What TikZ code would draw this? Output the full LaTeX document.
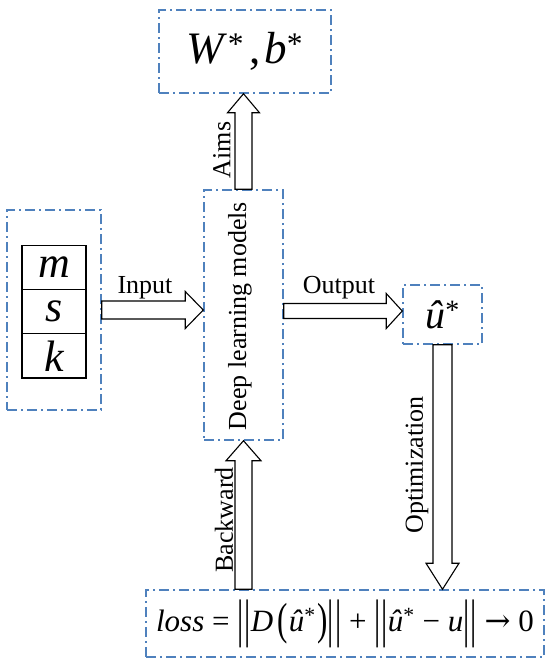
\documentclass[tikz,border=0pt]{standalone}
\usepackage{graphicx}
\usepackage{fontspec}
\setmainfont{Liberation Serif}
\newfontfamily\symf{DejaVu Serif}
\usetikzlibrary{calc}
\definecolor{boxblue}{RGB}{79,129,189}
\newcommand\dbar{\raisebox{-0.14em}{\scalebox{1}[1.7]{|\kern0.04em|}}}
\newcommand\tparen[1]{\raisebox{-0.1em}{\scalebox{1}[1.45]{#1}}}
\newcommand\st{\textsuperscript{*}}
\tikzset{
  dbox/.style={draw=boxblue, line width=1.5pt, dash pattern=on 10pt off 4pt on 2pt off 4pt, inner sep=0pt},
  barrow/.style={draw=black, fill=white, line width=1.1pt, line join=miter},
  lbl/.style={font=\fontsize{26}{30}\selectfont, inner sep=0pt},
  cell/.style={draw=black, line width=1.1pt, minimum width=64pt, minimum height=44.3pt, inner sep=0pt, font=\fontsize{44}{48}\selectfont\itshape}
}
% #1 start, #2 tip, #3 shaft half width, #4 head half width, #5 head length
\newcommand\blockarrow[5]{%
  \coordinate (ba-h) at ($(#2)!#5!(#1)$);
  \draw[barrow] ($(#1)!#3!90:(#2)$) -- ($(ba-h)!#3!-90:(#1)$) -- ($(ba-h)!#4!-90:(#1)$) -- (#2)
    -- ($(ba-h)!#4!90:(#1)$) -- ($(ba-h)!#3!90:(#1)$) -- ($(#1)!#3!-90:(#2)$) -- cycle;}
\begin{document}
\begin{tikzpicture}[x=1pt,y=-1pt]
\useasboundingbox (0,0) rectangle (550,667);
% boxes
\node[dbox, minimum width=172pt, minimum height=83pt, font=\fontsize{45}{50}\selectfont] (tb) at (245,51.5) {\textit{W}\st\kern0.12em,\kern0.08em\textit{b}\st};
\node[dbox, minimum width=94pt, minimum height=200pt] (lb) at (54,310) {};
\node[cell] (cm) at (54,267.2) {m};
\node[cell] (cs) at (54,311.5) {s};
\node[cell] (ck) at (54,355.8) {k};
\node[dbox, minimum width=79pt, minimum height=59pt, font=\fontsize{40}{44}\selectfont] (ub) at (442.5,314.5) {\textit{û}\st};
\node[dbox, minimum width=398pt, minimum height=67pt, font=\fontsize{31}{36}\selectfont] (loss) at (345,623.5)
  {\textit{loss} = \dbar\textit{D}\kern0.12em\tparen{(}\kern0.05em\textit{û}\st\kern0.05em\tparen{)}\dbar{} + \dbar\textit{û}\st{} − \textit{u}\dbar{} {\symf →} 0};
\node[dbox, minimum width=79pt, minimum height=250pt] (dl) at (243.5,315) {};
% labels
\node[lbl, rotate=90] (dlt) at (240,316) {Deep learning models};
\node[lbl] (tin) at (145,288) {Input};
\node[lbl] (tout) at (339,288) {Output};
\node[lbl, rotate=90] (taims) at (222,150) {Aims};
\node[lbl, rotate=90] (tback) at (224,520) {Backward};
\node[lbl, rotate=90] (topt) at (417,465) {Optimization};
% arrows
\coordinate (in-end) at (dl.west |- lb.east);
\blockarrow{lb.east}{in-end}{9pt}{18.5pt}{18pt}
\coordinate (out-s) at (dl.east |- 0,311);
\coordinate (out-e) at (ub.west |- 0,311);
\blockarrow{out-s}{out-e}{7.5pt}{17.5pt}{16pt}
\coordinate (aims-e) at (tb.south -| dl.north);
\blockarrow{dl.north}{aims-e}{8.5pt}{16pt}{19pt}
\coordinate (back-s) at (dl.south |- loss.north);
\blockarrow{back-s}{dl.south}{8.5pt}{17.5pt}{20pt}
\coordinate (opt-e) at (ub.south |- loss.north);
\blockarrow{ub.south}{opt-e}{9.5pt}{16.5pt}{26pt}
\end{tikzpicture}
\end{document}
